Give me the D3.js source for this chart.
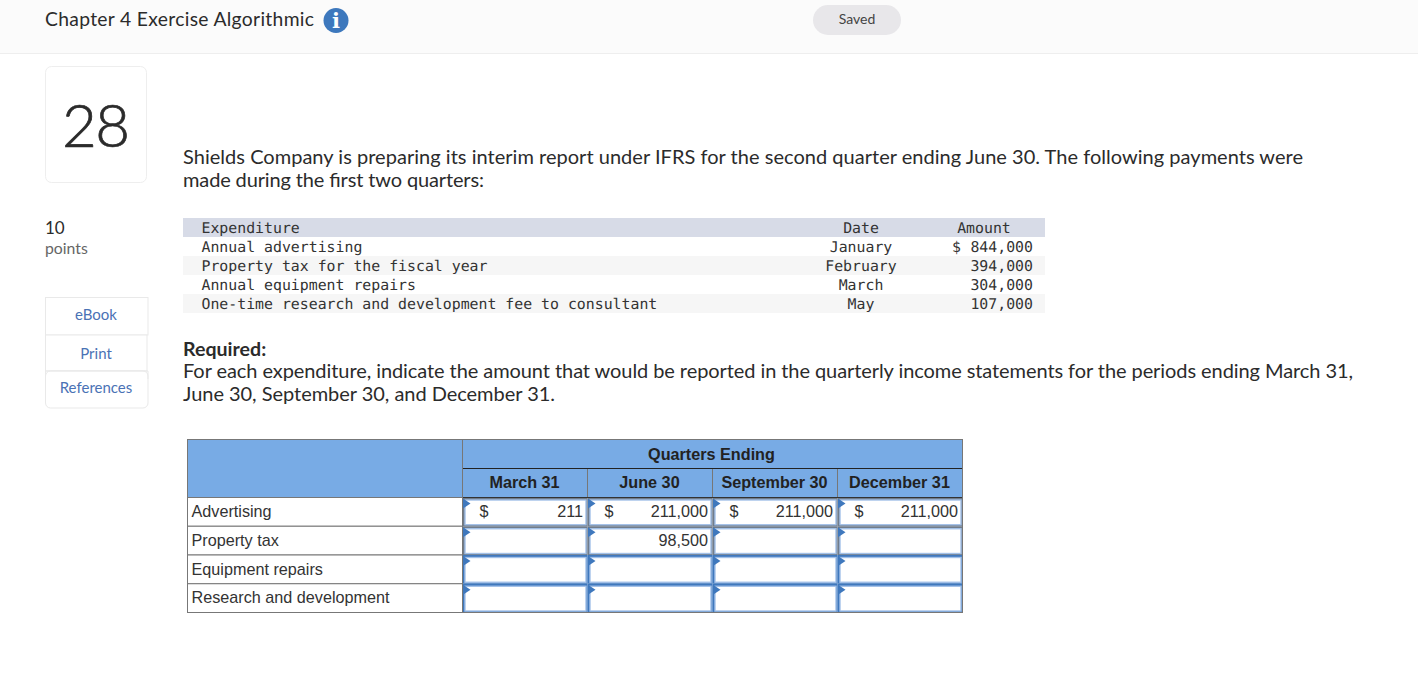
<!DOCTYPE html>
<html>
<head>
<meta charset="utf-8">
<script src="https://cdnjs.cloudflare.com/ajax/libs/d3/7.8.5/d3.min.js"></script>
<style>
    html, body { margin: 0; padding: 0; background: #fff; overflow: hidden; }
    text { font-family: Lato, "Open Sans", sans-serif; fill: #2b2b2b; }
    .mono text { font-family: "DejaVu Sans Mono", monospace; font-size: 14.85px; fill: #333; text-rendering: geometricPrecision; }
    .arial { font-family: "Liberation Sans", Arial, sans-serif; font-size: 16.2px; fill: #333; }
    .head { font-weight: bold; fill: #222; }
</style>
</head>
<body>
<svg id="chart" width="1418" height="675"></svg>
<script>
// payments table
var expenditures = ["Annual advertising", "Property tax for the fiscal year", "Annual equipment repairs", "One-time research and development fee to consultant"];
var dates = ["January", "February", "March", "May"];
var amounts = [844000, 394000, 304000, 107000];

// answer table
var rowLabels = ["Advertising", "Property tax", "Equipment repairs", "Research and development"];
var quarters = ["March 31", "June 30", "September 30", "December 31"];
var advertising = ["211", "211,000", "211,000", "211,000"];
var propertyTax = ["", "98,500", "", ""];
var equipmentRepairs = ["", "", "", ""];
var research = ["", "", "", ""];
var answers = [advertising, propertyTax, equipmentRepairs, research];

var sideLinks = ["eBook", "Print", "References"];
var introLines = [
    "Shields Company is preparing its interim report under IFRS for the second quarter ending June 30. The following payments were",
    "made during the first two quarters:"
];
var requiredLines = [
    "For each expenditure, indicate the amount that would be reported in the quarterly income statements for the periods ending March 31,",
    "June 30, September 30, and December 31."
];

var svg = d3.select("#chart");
var fmt = d3.format(",");

/* top bar */
svg.append("rect").attr("width", 1418).attr("height", 53).attr("fill", "#fbfbfb");
svg.append("line").attr("x1", 0).attr("x2", 1418).attr("y1", 53.5).attr("y2", 53.5).attr("stroke", "#eeeeee");
svg.append("text").attr("x", 45).attr("y", 26).attr("font-size", 19.3).attr("textLength", 269).text("Chapter 4 Exercise Algorithmic");
svg.append("circle").attr("cx", 336).attr("cy", 20.5).attr("r", 12.5).attr("fill", "#3d78bd");
svg.append("text").attr("x", 336).attr("y", 28).attr("text-anchor", "middle").attr("font-size", 21)
    .style("font-family", "'DejaVu Serif', serif").style("font-weight", "bold").style("fill", "#fff").text("i");
svg.append("rect").attr("x", 813).attr("y", 5).attr("width", 88).attr("height", 30).attr("rx", 15).attr("fill", "#e8e7ea");
svg.append("text").attr("x", 857).attr("y", 24).attr("text-anchor", "middle").attr("font-size", 14).style("fill", "#444").text("Saved");

/* question number */
svg.append("rect").attr("x", 45.5).attr("y", 66.5).attr("width", 101).attr("height", 116).attr("rx", 6)
    .attr("fill", "#fff").attr("stroke", "#eeeeee");
svg.append("text").attr("x", 62).attr("y", 147).attr("font-size", 60).attr("font-weight", 300)
    .attr("textLength", 68).style("stroke", "#2b2b2b").style("stroke-width", 0.7).text("28");
svg.append("text").attr("x", 45).attr("y", 234).attr("font-size", 17).text("10");
svg.append("text").attr("x", 45).attr("y", 254).attr("font-size", 15.8).style("fill", "#666").text("points");

/* side links */
var linkY = d3.scaleOrdinal().domain(sideLinks).range([297, 334.5, 370.5]);
var linkH = d3.scaleOrdinal().domain(sideLinks).range([37.5, 36, 37]);
var linkW = d3.scaleOrdinal().domain(sideLinks).range([102.5, 101.5, 102.5]);
var linkText = d3.scaleOrdinal().domain(sideLinks).range([320, 359, 393]);
svg.selectAll(".link").data(sideLinks).enter().append("rect")
    .attr("class", "link")
    .attr("x", 45.5).attr("y", function(d) { return linkY(d) + 0.5; })
    .attr("width", function(d) { return linkW(d); }).attr("height", function(d) { return linkH(d); })
    .attr("rx", function(d) { return d == "References" ? 5 : 0; })
    .attr("fill", "#fff").attr("stroke", "#e9e9e9");
// only the bottom of the last box is rounded
svg.append("path").attr("d", "M45.5 379V371H148V379").attr("fill", "none").attr("stroke", "#e9e9e9");
svg.selectAll(".linkText").data(sideLinks).enter().append("text")
    .attr("x", 96).attr("y", function(d) { return linkText(d); })
    .attr("text-anchor", "middle").attr("font-size", 15).style("fill", "#4a72b5")
    .text(function(d) { return d; });

/* question text */
svg.selectAll(".intro").data(introLines).enter().append("text")
    .attr("x", 183).attr("y", function(d, i) { return 164 + i * 23; })
    .attr("font-size", 20).attr("textLength", function(d, i) { return i == 0 ? 1120 : 301; })
    .text(function(d) { return d; });
svg.append("text").attr("x", 183).attr("y", 356).attr("font-size", 19.6).attr("font-weight", 700).text("Required:");
svg.selectAll(".req").data(requiredLines).enter().append("text")
    .attr("x", 183).attr("y", function(d, i) { return 378 + i * 23; })
    .attr("font-size", 20).attr("textLength", function(d, i) { return i == 0 ? 1170 : 372; })
    .text(function(d) { return d; });

/* payments table */
var payRows = d3.scaleBand().domain(d3.range(5)).range([218, 313]);
var pay = svg.append("g").attr("class", "mono");
pay.selectAll("rect").data(d3.range(5)).enter().append("rect")
    .attr("x", 183).attr("width", 862)
    .attr("y", function(d) { return payRows(d); }).attr("height", payRows.bandwidth())
    .attr("fill", function(d) { return d == 0 ? "#d7dbe7" : (d % 2 == 0 ? "#f6f6f6" : "#fff"); });

function payY(i) { return payRows(i) + 14.5; }
pay.append("text").attr("x", 201.5).attr("y", payY(0)).text("Expenditure");
pay.append("text").attr("x", 861).attr("y", payY(0)).attr("text-anchor", "middle").text("Date");
pay.append("text").attr("x", 984).attr("y", payY(0)).attr("text-anchor", "middle").text("Amount");
expenditures.forEach(function(e, i) {
    pay.append("text").attr("x", 201.5).attr("y", payY(i + 1)).text(e);
    pay.append("text").attr("x", 861).attr("y", payY(i + 1)).attr("text-anchor", "middle").text(dates[i]);
    pay.append("text").attr("x", 1033).attr("y", payY(i + 1)).attr("text-anchor", "end").text(fmt(amounts[i]));
});
pay.append("text").attr("x", 952).attr("y", payY(1)).text("$");

/* answer table */
var colX = d3.scaleBand().domain(quarters).range([462.5, 962.5]);
var rowY = d3.scaleBand().domain(rowLabels).range([497.5, 612.5]);
var tbl = svg.append("g");

function textY(r) { return Math.round(rowY(r) + 19.5); }

tbl.append("rect").attr("x", 187.5).attr("y", 439.5).attr("width", 775).attr("height", 58).attr("fill", "#78abe5");

// label cells
tbl.selectAll(".rowCell").data(rowLabels).enter().append("rect")
    .attr("class", "rowCell")
    .attr("x", 187.5).attr("width", 275)
    .attr("y", function(d) { return rowY(d); }).attr("height", rowY.bandwidth())
    .attr("fill", "#fff").attr("stroke", "#777");
tbl.selectAll(".rowText").data(rowLabels).enter().append("text")
    .attr("class", "arial")
    .attr("x", 191.5).attr("y", function(d) { return textY(d); })
    .text(function(d) { return d; });

// input cells
rowLabels.forEach(function(r, i) {
    quarters.forEach(function(q, j) {
        var x = colX(q), y = rowY(r), w = colX.bandwidth(), h = rowY.bandwidth();
        var edge = i >= 2 ? "#3f78bd" : "#6f7c8c";
        tbl.append("rect").attr("x", x).attr("y", y).attr("width", w).attr("height", h)
            .attr("fill", edge);
        tbl.append("rect").attr("x", x + 2.5).attr("y", y + 2.5).attr("width", w - 4).attr("height", h - 4)
            .attr("fill", "#fff").attr("stroke", "#a3c1e8").attr("stroke-width", 1.4);
        tbl.append("path")
            .attr("d", d3.line()([[x + 0.5, y + 1], [x + 8, y + 6], [x + 0.5, y + 11]]))
            .attr("fill", "#3f78bd");
        if (answers[i][j] != "") {
            tbl.append("text").attr("class", "arial").attr("x", x + w - 4.5).attr("y", textY(r))
                .attr("text-anchor", "end").text(answers[i][j]);
        }
        if (i == 0) {
            tbl.append("text").attr("class", "arial").attr("x", x + 17).attr("y", textY(r)).text("$");
        }
    });
});

// header lines and text
tbl.append("text").attr("class", "arial head").attr("x", 711.5).attr("y", 459.5).attr("text-anchor", "middle").text("Quarters Ending");
tbl.selectAll(".qText").data(quarters).enter().append("text")
    .attr("class", "arial head")
    .attr("x", function(d) { return colX(d) + colX.bandwidth() / 2 - 0.5; }).attr("y", 487.5)
    .attr("text-anchor", "middle").text(function(d) { return d; });
tbl.selectAll(".qLine").data(quarters.slice(1)).enter().append("line")
    .attr("class", "qLine")
    .attr("x1", function(d) { return colX(d); }).attr("x2", function(d) { return colX(d); })
    .attr("y1", 468.5).attr("y2", 497.5).attr("stroke", "#777");
tbl.append("line").attr("x1", 462.5).attr("x2", 962.5).attr("y1", 468.5).attr("y2", 468.5).attr("stroke", "#222");
tbl.append("line").attr("x1", 462.5).attr("x2", 962.5).attr("y1", 497.5).attr("y2", 497.5).attr("stroke", "#333");
tbl.append("line").attr("x1", 462.5).attr("x2", 462.5).attr("y1", 439.5).attr("y2", 612.5).attr("stroke", "#777");
tbl.append("rect").attr("x", 187.5).attr("y", 439.5).attr("width", 775).attr("height", 173)
    .attr("fill", "none").attr("stroke", "#777");
</script>
</body>
</html>
